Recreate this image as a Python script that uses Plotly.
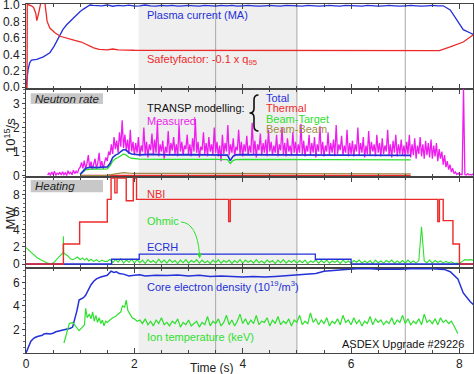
import plotly.graph_objects as go

# ---------------- data ----------------
# Panel 1: plasma current (MA) and -0.1 x q95
ip_t = [0, 0.02, 0.04, 0.07, 0.1, 0.2, 0.32, 0.44, 0.52, 0.6, 0.68, 0.75, 0.81, 0.88, 0.94, 1.0, 1.06, 1.12, 1.18, 1.24]
ip_v = [0, 0.15, 0.22, 0.3, 0.33, 0.34, 0.37, 0.42, 0.5, 0.6, 0.7, 0.76, 0.8, 0.84, 0.88, 0.92, 0.95, 0.98, 1.0, 0.995]
ip_flat_t0, ip_flat_dt = 1.3, 0.1
ip_flat_v = [0.995, 0.99, 1.0, 0.985, 0.995, 0.99, 0.998, 0.985, 0.99, 1.0,
             0.99, 0.985, 0.995, 0.99, 0.995, 0.985, 0.99, 0.995, 0.99, 0.985,
             0.995, 0.99, 0.985, 0.995, 0.99, 0.995, 0.985, 0.99, 0.995, 0.99,
             0.985, 0.99, 0.995, 0.99, 0.985, 0.995, 0.99, 0.99, 0.985, 0.995,
             0.99, 0.985, 0.99, 0.995, 0.99, 0.985, 0.995, 0.99, 0.99, 0.985,
             0.995, 0.99, 0.985, 0.99, 0.995, 0.99, 0.985, 0.99, 0.995, 0.99,
             0.985, 0.99, 0.995, 0.99]
ip_end_t = [7.7, 7.83, 7.95, 8.07, 8.2, 8.26]
ip_end_v = [0.99, 0.94, 0.82, 0.7, 0.66, 0.64]

q_t = [0.0, 0.02, 0.025, 0.05, 0.1, 0.14, 0.18, 0.2, 0.24, 0.28, 0.3, 0.33, 0.35, 0.39, 0.44, 0.54, 0.63,
       0.77, 0.9, 1.02, 1.15, 1.25, 1.35, 1.5, 1.6, 1.7, 2.0, 3.0, 4.0, 5.0, 6.0, 7.0, 7.63, 7.83, 8.07, 8.26]
q_v = [0.0, 0.0, 1.5, 1.0, 0.99, 0.97, 0.9, 0.81, 0.92, 1.05, 1.3, 1.3, 1.02, 0.8, 0.72, 0.66, 0.62,
       0.59, 0.57, 0.55, 0.51, 0.48, 0.46, 0.455, 0.465, 0.455, 0.45, 0.45, 0.445, 0.445, 0.445, 0.445, 0.445, 0.49, 0.55, 0.64]

# Panel 2: neutron rate (10^15/s)
meas_t0, meas_dt = 0.4, 0.025
meas_v = [0.02, 0.12, 0.0, 0.15, 0.03, 0.18, 0.01, 0.1,
          0.05, 0.14, 0.02, 0.16, 0.04, 0.12, 0.0, 0.2, 0.06, 0.15, 0.03, 0.22, 0.08, 0.18, 0.1, 0.28,
          0.35, 0.55, 0.3, 0.62, 0.28, 0.5, 0.85, 0.32, 0.58, 0.25, 0.48, 0.7, 0.3, 0.52, 0.95, 0.35, 0.6, 0.28, 0.55, 0.75,
          0.6, 1.0, 0.85, 1.3, 0.9, 1.6, 1.1, 1.45, 0.95, 1.8, 1.2, 2.3, 1.15, 1.7, 1.05, 1.5, 0.9, 1.9, 1.0, 1.4,
          0.85, 1.35, 0.95, 1.6, 0.8, 1.25, 1.0, 2.0, 0.9, 1.4, 0.75, 1.3, 1.05, 1.75, 0.85, 1.5, 0.95, 2.2, 0.8, 1.3,
          1.0, 1.45, 0.7, 1.2, 0.95, 1.85, 0.85, 1.35, 1.05, 1.6, 0.9, 1.3, 0.8, 2.1, 1.0, 1.4, 0.85, 1.25, 1.1, 1.7,
          0.9, 1.3, 0.8, 1.55, 1.0, 2.35, 0.95, 1.4, 0.75, 1.2, 1.05, 1.8, 0.9, 1.35, 0.8, 1.6, 1.0, 1.3, 0.85, 2.0,
          0.95, 1.4, 0.8, 1.25, 0.6, 1.7, 0.9, 1.35, 1.0, 2.1, 0.85, 1.3, 0.95, 1.55, 0.8, 1.2, 1.05, 1.9, 0.9, 1.4,
          0.8, 1.3, 1.0, 1.65, 0.85, 1.25, 0.95, 2.2, 0.9, 1.45, 0.75, 1.3, 1.05, 1.75, 0.85, 1.35, 0.95, 1.5, 0.8, 1.9,
          1.0, 1.4, 0.85, 1.25, 0.95, 1.7, 0.8, 1.3, 1.05, 2.0, 0.9, 1.35, 0.8, 1.55, 1.0, 1.25, 0.85, 1.8, 0.95, 1.4,
          0.85, 1.3, 0.95, 2.15, 0.9, 1.45, 0.8, 1.25, 1.0, 1.7, 0.85, 1.35, 0.95, 1.6, 0.75, 1.3, 1.0, 2.05, 0.9, 1.4,
          0.8, 1.25, 1.0, 1.8, 0.85, 1.35, 0.95, 1.5, 0.8, 2.1, 0.9, 1.3, 1.05, 1.65, 0.85, 1.25, 0.95, 1.9, 0.8, 1.35,
          0.9, 1.45, 0.8, 1.3, 1.0, 2.0, 0.85, 1.35, 0.95, 1.6, 0.75, 1.25, 0.9, 1.85, 0.85, 1.4, 1.0, 1.3, 0.8, 1.7,
          0.95, 1.35, 0.8, 1.55, 0.9, 1.25, 1.0, 1.9, 0.85, 1.3, 0.75, 1.45, 0.95, 1.7, 0.8, 1.3, 0.9, 1.5, 0.85, 1.25,
          0.8, 1.4, 0.9, 1.7, 0.75, 1.3, 0.85, 1.55, 0.7, 1.25, 0.9, 1.6, 0.8, 1.3, 0.7, 1.45, 0.85, 1.35, 0.75, 1.5,
          0.7, 1.25, 0.8, 1.35, 0.6, 1.1, 0.7, 1.0, 0.45, 0.85, 0.35, 0.6, 0.25, 0.45, 0.15, 0.3, 0.08, 0.15, 0.05, 0.1,
          0.03, 0.06, 0.02, 3.6, 0.04, 0.02, 0.08, 0.03, 0.05, 0.02, 0.06, 0.03, 0.04]

tot_t = [1.0, 1.05, 1.1, 1.2, 1.3, 1.4, 1.5, 1.55, 1.6, 1.65, 1.7, 1.75, 1.8, 1.85, 1.9, 1.95, 2.0, 2.1, 2.3,
         2.6, 3.0, 3.4, 3.72, 3.77, 3.82, 3.87, 4.0, 4.5, 5.0, 5.5, 6.0, 6.5, 7.0, 7.1]
tot_v = [0.05, 0.2, 0.3, 0.35, 0.33, 0.35, 0.36, 0.5, 0.75, 0.85, 0.9, 1.0, 1.08, 1.05, 0.95, 0.9, 0.88, 0.86, 0.88,
         0.86, 0.87, 0.86, 0.85, 0.62, 0.8, 0.86, 0.87, 0.86, 0.86, 0.85, 0.86, 0.85, 0.84, 0.84]
bt_t = [1.0, 1.05, 1.1, 1.2, 1.3, 1.4, 1.5, 1.55, 1.6, 1.65, 1.7, 1.75, 1.8, 1.85, 1.9, 1.95, 2.0, 2.1, 2.5,
        3.0, 3.5, 3.72, 3.77, 3.82, 3.87, 4.0, 5.0, 6.0, 7.0, 7.1]
bt_v = [0.04, 0.15, 0.24, 0.27, 0.26, 0.27, 0.28, 0.4, 0.6, 0.7, 0.75, 0.82, 0.9, 0.85, 0.76, 0.72, 0.7, 0.68, 0.67,
        0.68, 0.67, 0.66, 0.5, 0.62, 0.66, 0.67, 0.66, 0.66, 0.65, 0.65]
bb_t = [1.0, 1.5, 1.6, 1.7, 1.8, 1.9, 2.0, 3.0, 4.0, 5.0, 6.0, 7.0, 7.1]
bb_v = [0.0, 0.01, 0.05, 0.09, 0.12, 0.1, 0.09, 0.09, 0.08, 0.08, 0.07, 0.07, 0.07]
th_t = [1.0, 2.0, 4.0, 6.0, 7.1]
th_v = [0.0, 0.0, 0.0, 0.0, 0.0]

# Panel 3: heating (MW)
nbi_t = [0, 0.69, 0.99, 1.5, 1.57, 1.64, 1.68, 1.85, 1.98, 2.04, 3.74, 3.77, 7.6, 7.63, 7.7, 7.88, 8.0, 8.25]
nbi_v = [0, 2.3, 4.85, 7.45, 9.9, 8.2, 9.9, 7.3, 9.9, 7.45, 4.9, 7.45, 4.9, 7.45, 5.0, 2.3, 0, 0]
ecrh_t = [0, 1.58, 2.09, 5.34, 6.0, 8.25]
ecrh_v = [0, 0.55, 1.15, 0.55, 0, 0]
ohm_t = [0, 0.05, 0.1, 0.15, 0.2, 0.27, 0.34, 0.4, 0.46, 0.52, 0.57, 0.62, 0.66, 0.685, 0.69, 0.695, 0.72,
         0.77, 0.82, 0.86, 0.9, 0.95, 1.0, 1.04, 1.08, 1.12, 1.16, 1.2, 1.25, 1.3, 1.35, 1.4, 1.45]
ohm_v = [1.9, 1.6, 1.3, 1.0, 0.75, 0.5, 0.25, 0.1, 0.0, 0.2, 0.55, 0.9, 1.2, 1.3, 3.2, 1.3, 1.15,
         0.95, 0.6, 0.5, 0.6, 0.8, 0.5, 0.7, 0.45, 0.65, 0.35, 0.55, 0.3, 0.5, 0.25, 0.45, 0.3]
ohm_band_t0, ohm_band_dt = 1.5, 0.05
ohm_band_v = [0.3, 0.55, 0.15, 0.5, 0.2, 0.6, 0.1, 0.45, 0.2, 0.55,
              0.1, 0.5, 0.15, 0.45, 0.05, 0.5, 0.2, 0.4, 0.1, 0.55,
              0.15, 0.45, 0.1, 0.5, 0.2, 0.4, 0.05, 0.45, 0.15, 0.5,
              0.1, 0.4, 0.2, 0.5, 0.1, 0.45, 0.15, 0.35, 0.05, 0.45,
              0.15, 0.5, 0.1, 0.4, 0.2, 0.45, 0.05, 0.4, 0.15, 0.5,
              0.1, 0.45, 0.2, 0.4, 0.1, 0.5, 0.15, 0.35, 0.1, 0.45,
              0.2, 0.4, 0.05, 0.45, 0.15, 0.5, 0.1, 0.4, 0.2, 0.45,
              0.1, 0.4, 0.15, 0.45, 0.05, 0.35, 0.2, 0.45, 0.1, 0.4,
              0.15, 0.45, 0.1, 0.35, 0.2, 0.4, 0.05, 0.45, 0.15, 0.35,
              0.1, 0.4, 0.2, 0.45, 0.1, 0.35, 0.15, 0.4, 0.05, 0.45,
              0.15, 0.35, 0.1, 0.4, 0.2, 0.45, 0.1, 0.35, 0.15, 0.4,
              0.1, 0.45, 0.15, 0.35, 0.1, 0.4, 4.3, 0.35, 0.15, 0.45,
              0.1, 0.4, 0.2, 0.35, 0.1, 0.3, 0.15, 0.25, 0.05, 0.1,
              0.05, 0.3, 0.5, 0.45, 0.5, 0.45]

# Panel 4: core electron density (1e19/m3) and ion temperature (keV)
ne_t = [0, 0.03, 0.06, 0.09, 0.12, 0.16, 0.21, 0.26, 0.3, 0.33, 0.38, 0.44, 0.5, 0.55, 0.6, 0.65, 0.7, 0.77,
        0.82, 0.86, 0.9, 0.94, 0.98, 1.02, 1.06, 1.1, 1.15, 1.2, 1.25, 1.3, 1.38, 1.44, 1.5, 1.57, 1.62,
        1.67, 1.72, 1.8, 1.9, 2.0, 2.1, 2.2, 2.4, 2.6, 2.8, 3.0, 3.2, 3.4, 3.6, 3.8, 4.0, 4.2, 4.4, 4.6,
        4.8, 5.0, 5.2, 5.35, 5.5, 5.7, 5.9, 6.1, 6.3, 6.5, 6.7, 6.9, 7.1, 7.3, 7.5, 7.72, 7.83, 7.97,
        8.01, 8.07, 8.2, 8.26]
ne_v = [0, 0.35, 0.7, 1.0, 1.15, 1.3, 1.4, 1.45, 1.5, 1.62, 1.65, 1.62, 1.68, 1.8, 1.85, 1.92, 1.98, 2.08,
        2.1, 2.2, 2.8, 3.6, 4.5, 4.6, 4.7, 4.9, 5.4, 5.8, 6.1, 6.3, 6.45, 6.5, 6.6, 6.95, 6.85,
        6.9, 6.75, 6.7, 6.55, 6.6, 6.65, 6.55, 6.6, 6.58, 6.62, 6.55, 6.6, 6.5, 6.55, 6.5, 6.45, 6.5, 6.45, 6.5,
        6.55, 6.6, 6.65, 6.75, 6.95, 7.05, 7.1, 7.15, 7.18, 7.12, 7.1, 7.12, 7.15, 7.18, 7.15, 7.1, 6.9, 6.3,
        5.75, 5.1, 4.35, 4.1]
ti_t = [0.7, 0.75, 0.8, 0.86, 0.92, 0.98, 1.04, 1.08, 1.1, 1.13, 1.17, 1.2, 1.23, 1.26, 1.29, 1.32, 1.35,
        1.38, 1.41, 1.44, 1.47, 1.5, 1.55, 1.6, 1.65, 1.7, 1.75, 1.78, 1.82, 1.85, 1.88, 1.92, 1.96, 2.0,
        2.05, 2.1]
ti_v = [0.85, 1.8, 2.5, 2.6, 2.2, 1.9, 2.2, 2.4, 3.8, 3.0, 3.3, 2.9, 3.5, 2.7, 3.2, 2.6, 3.0,
        2.5, 2.8, 2.3, 2.7, 2.6, 2.8, 3.0, 3.1, 3.3, 3.5, 4.0, 3.9, 4.5, 3.6, 3.3, 3.0, 2.9,
        2.7, 2.8]
ti_noise_t0, ti_noise_dt = 2.15, 0.05
ti_noise_v = [2.5, 2.9, 2.4, 2.7, 2.3, 2.8, 2.5, 3.0, 2.4, 2.6,
              2.3, 2.7, 2.5, 2.9, 2.2, 2.6, 2.4, 2.8, 2.3, 2.5,
              2.7, 2.2, 2.6, 2.4, 3.1, 2.3, 2.7, 2.5, 2.9, 2.3,
              2.6, 3.2, 2.4, 2.8, 2.3, 2.7, 3.3, 2.5, 2.9, 2.4,
              2.8, 2.5, 3.2, 2.4, 2.7, 2.6, 3.0, 2.3, 2.8, 2.5,
              3.1, 2.4, 2.7, 2.5, 2.9, 2.3, 2.8, 2.6, 3.2, 2.4,
              2.7, 2.5, 3.4, 2.6, 2.9, 2.4, 2.8, 2.5, 3.0, 2.3,
              2.7, 2.5, 2.9, 2.4, 3.2, 2.6, 2.8, 2.4, 3.0, 2.5,
              2.8, 2.3, 2.7, 2.5, 3.1, 2.4, 2.9, 2.6, 2.8, 2.4,
              2.7, 2.5, 3.0, 2.4, 2.8, 2.6, 3.2, 2.5, 2.9, 2.4,
              2.7, 2.5, 2.9, 2.4, 3.3, 2.6, 2.8, 2.5, 2.9, 2.4,
              3.0, 2.6, 2.8, 2.5, 2.7]
ti_end_t = [7.9, 7.95, 7.97]
ti_end_v = [2.3, 1.9, 1.65]

x_ticks = [0, 2, 4, 6, 8]
shade_t = [2.08, 5.0]
vline_t = [3.5, 5.0, 7.0]

# ---------------- assemble ----------------
def seq(t0, dt, vals):
    return [round(t0 + i * dt, 4) for i in range(len(vals))]

ip_x = ip_t + seq(ip_flat_t0, ip_flat_dt, ip_flat_v) + ip_end_t
ip_y = ip_v + ip_flat_v + ip_end_v
meas_x = seq(meas_t0, meas_dt, meas_v)
ohm_x = ohm_t + seq(ohm_band_t0, ohm_band_dt, ohm_band_v)
ohm_y = ohm_v + ohm_band_v
ti_x = ti_t + seq(ti_noise_t0, ti_noise_dt, ti_noise_v) + ti_end_t
ti_y = ti_v + ti_noise_v + ti_end_v

W, H = 474, 374
ML, MR, MT, MB = 26, 1, 4, 21
PW, PH = W - ML - MR, H - MT - MB
def px(x): return (x - ML) / PW
def py(y): return (H - MB - y) / PH

BLUE = "#2430d8"
RED = "#ec2a2a"
GREEN = "#2ee02e"
MAG = "#ee1cee"
OLIVE = "#a08a48"
FONT = "Liberation Sans, Arial, sans-serif"

fig = go.Figure()
def line(x, y, color, n, w=1.2, shape="linear"):
    ax = "" if n == 1 else str(n)
    fig.add_trace(go.Scatter(x=x, y=y, mode="lines", line=dict(color=color, width=w, shape=shape),
                             xaxis="x" + ax, yaxis="y" + ax, showlegend=False, hoverinfo="skip"))

line(ip_x, ip_y, BLUE, 1, 1.3)
line(q_t, q_v, RED, 1, 1.3)
line(meas_x, meas_v, MAG, 2, 1.3)
line(th_t, th_v, RED, 2, 1.5)
line(bb_t, bb_v, OLIVE, 2, 1.3)
line(bt_t, bt_v, GREEN, 2, 1.3)
line(tot_t, tot_v, BLUE, 2, 1.6)
line(ohm_x, ohm_y, GREEN, 3, 1.1)
line(ecrh_t, ecrh_v, BLUE, 3, 1.3, "hv")
line(nbi_t, nbi_v, RED, 3, 1.4, "hv")
line(ne_t, ne_v, BLUE, 4, 1.5)
line(ti_x, ti_y, GREEN, 4, 1.2)

doms = [[py(89), 1.0], [py(177), py(89)], [py(268), py(177)], [0.0, py(268)]]
yranges = [[-0.021, 1.012], [-0.06, 3.6], [-0.46, 10.03], [0, 7.22]]
ycfg = [dict(tickvals=[0, 0.2, 0.4, 0.6, 0.8, 1.0], tickformat=".1f", minor=dict(dtick=0.05)),
        dict(tickvals=[0, 1, 2, 3], minor=dict(dtick=0.2)),
        dict(tickvals=[0, 2, 4, 6, 8], minor=dict(dtick=0.5), zeroline=True, zerolinecolor="#555", zerolinewidth=1),
        dict(tickvals=[2, 4, 6], minor=dict(dtick=0.5))]

layout = dict(width=W, height=H, margin=dict(l=ML, r=MR, t=MT, b=MB, autoexpand=False),
              paper_bgcolor="white", plot_bgcolor="white",
              font=dict(family=FONT, size=12, color="#222"), showlegend=False)
for i in range(4):
    n = i + 1
    ax = "" if n == 1 else str(n)
    xa = dict(domain=[0, 1], range=[0, 8.25], anchor="y" + ax, tickvals=x_ticks, automargin=False,
              showticklabels=(n == 4), ticks="inside", ticklen=5, tickcolor="#444",
              minor=dict(dtick=0.5, ticks="inside", ticklen=3, tickcolor="#444"),
              showline=True, linecolor="#444", linewidth=1, mirror="ticks", showgrid=False, zeroline=False,
              tickfont=dict(size=12), ticklabeloverflow="allow")
    ya = dict(domain=doms[i], range=yranges[i], anchor="x" + ax, ticks="outside", ticklen=3, automargin=False,
              tickcolor="#444", showline=True, linecolor="#444", linewidth=1, mirror=True,
              showgrid=False, zeroline=False, tickfont=dict(size=12), ticklabeloverflow="allow")
    mn = ycfg[i].get("minor", {})
    ya.update({k: v for k, v in ycfg[i].items() if k != "minor"})
    ya["minor"] = dict(dtick=mn.get("dtick"), ticks="outside", ticklen=2, tickcolor="#666")
    layout["xaxis" + ax] = xa
    layout["yaxis" + ax] = ya
fig.update_layout(**layout)

shapes = []
for i in range(4):
    n = i + 1
    ax = "" if n == 1 else str(n)
    shapes.append(dict(type="rect", xref="x" + ax, yref="y" + ax + " domain", x0=shade_t[0], x1=shade_t[1],
                       y0=0, y1=1, fillcolor="#efefef", line=dict(width=0), layer="below"))
    for v in vline_t:
        shapes.append(dict(type="line", xref="x" + ax, yref="y" + ax + " domain", x0=v, x1=v, y0=0, y1=1,
                           line=dict(color="#a8a8a8", width=1), layer="below"))
# panel label boxes
for (y0, y1) in [(93.3, 104), (180, 192.3)]:
    shapes.append(dict(type="rect", xref="paper", yref="paper", x0=px(30.7), x1=px(103), y0=py(y1), y1=py(y0),
                       fillcolor="#c8c8c8", line=dict(width=0), layer="above"))
# brace
def P(x, y): return f"{px(x):.5f},{py(y):.5f}"
brace = (f"M {P(258.5,95)} Q {P(254,95)} {P(254,100)} L {P(254,108.5)} Q {P(254,113)} {P(249.5,113)} "
         f"Q {P(254,113)} {P(254,117.5)} L {P(254,126)} Q {P(254,131)} {P(258.5,131)}")
shapes.append(dict(type="path", xref="paper", yref="paper", path=brace, line=dict(color="#111", width=1.6)))
# curved arrow from "Ohmic"
arrow = f"M {P(181,222)} Q {P(197,223)} {P(199.5,254)}"
shapes.append(dict(type="path", xref="paper", yref="paper", path=arrow, line=dict(color=GREEN, width=1)))
fig.update_layout(shapes=shapes)

def txt(s, x, y, color, size=11, xanchor="left", italic=False, **kw):
    fig.add_annotation(text=s, x=px(x), y=py(y), xref="paper", yref="paper", xanchor=xanchor, yanchor="middle",
                       showarrow=False, font=dict(family=FONT, size=size, color=color,
                                                  style="italic" if italic else "normal"), **kw)

txt("Plasma current (MA)", 145, 14.5, BLUE)
txt("Safetyfactor: -0.1 x q<sub>95</sub>", 145, 60, RED)
txt("TRANSP modelling:", 145, 108.5, "#111")
txt("Measured", 145, 121, MAG)
txt("Total", 264, 97.7, BLUE)
txt("Thermal", 264, 108.3, RED)
txt("Beam-Target", 264, 118.5, GREEN)
txt("Beam-Beam", 264, 128.5, OLIVE)
txt("Neutron rate", 33, 98.5, "#222", size=11.5, italic=True)
txt("Heating", 33, 186, "#222", size=11.5, italic=True)
txt("NBI", 145, 193.5, RED)
txt("Ohmic", 145, 221, GREEN)
txt("ECRH", 145, 246.5, BLUE)
txt("Core electron density (10<sup>19</sup>/m<sup>3</sup>)", 145, 286, BLUE)
txt("Ion temperature (keV)", 145, 337, GREEN)
txt("ASDEX Upgrade #29226", 466, 344, "#111", xanchor="right")
txt("Time (s)", 211.5, 368, "#222", size=12, xanchor="center")
txt("10<sup>15</sup>/s", 10, 136, "#222", size=13, xanchor="center", textangle=-90)
txt("MW", 10, 217.5, "#222", size=13, xanchor="center", textangle=-90)
fig.add_annotation(text="", x=px(199.8), y=py(258.5), xref="paper", yref="paper", showarrow=True,
                   ax=-0.5, ay=-7, arrowhead=2, arrowsize=1, arrowwidth=1, arrowcolor=GREEN)

fig.write_html("out.html", config={"displayModeBar": False},
               post_script="document.body.style.margin='0px';document.body.style.padding='0px';")
